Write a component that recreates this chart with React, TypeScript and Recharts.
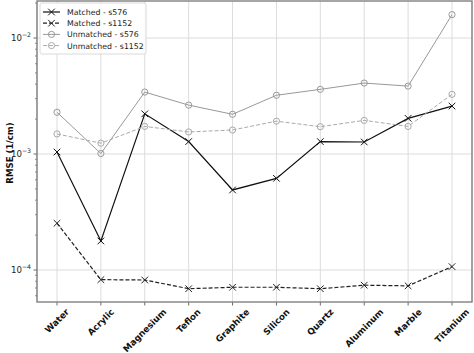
import { LineChart, Line, XAxis, YAxis, CartesianGrid, ReferenceLine } from 'recharts';

const materials = ['Water', 'Acrylic', 'Magnesium', 'Teflon', 'Graphite', 'Silicon', 'Quartz', 'Aluminum', 'Marble', 'Titanium'];
const matchedS576 = [1.04e-3, 1.78e-4, 2.22e-3, 1.28e-3, 4.9e-4, 6.17e-4, 1.28e-3, 1.27e-3, 2.03e-3, 2.59e-3];
const matchedS1152 = [2.53e-4, 8.26e-5, 8.2e-5, 6.9e-5, 7.1e-5, 7.1e-5, 6.9e-5, 7.4e-5, 7.3e-5, 1.07e-4];
const unmatchedS576 = [2.29e-3, 1.01e-3, 3.42e-3, 2.64e-3, 2.2e-3, 3.21e-3, 3.61e-3, 4.09e-3, 3.85e-3, 1.59e-2];
const unmatchedS1152 = [1.49e-3, 1.24e-3, 1.73e-3, 1.55e-3, 1.61e-3, 1.92e-3, 1.72e-3, 1.95e-3, 1.73e-3, 3.27e-3];
const majorTicks = [1e-4, 1e-3, 1e-2];
const tickExponents = ['−4', '−3', '−2'];

const W = 474;
const H = 353;
const PLOT_LEFT = 37;
const PLOT_TOP = 1;
const PLOT_RIGHT = 472;
const PLOT_BOTTOM = 302;
const Y_MIN = 5.3e-5;
const Y_MAX = 2.085e-2;
const FONT = '"DejaVu Sans", sans-serif';

const data = materials.map((name, i) => ({
  name,
  m576: matchedS576[i],
  m1152: matchedS1152[i],
  u576: unmatchedS576[i],
  u1152: unmatchedS1152[i],
}));

// log minor ticks (2..9 x 10^e) inside the visible range
const minorTicks: number[] = [];
for (let e = -5; e <= -2; e++) {
  for (let m = 2; m <= 9; m++) {
    const v = m * Math.pow(10, e);
    if (v >= Y_MIN && v <= Y_MAX) minorTicks.push(v);
  }
}
const yTicks = [...majorTicks, ...minorTicks].sort((a, b) => a - b);

type Series = { key: string; label: string; color: string; dash?: string; width: number; marker: 'x' | 'o' };
const series: Series[] = [
  { key: 'm576', label: 'Matched - s576', color: '#111', width: 1.2, marker: 'x' },
  { key: 'm1152', label: 'Matched - s1152', color: '#222', dash: '4 2', width: 1.2, marker: 'x' },
  { key: 'u576', label: 'Unmatched - s576', color: '#999', width: 1, marker: 'o' },
  { key: 'u1152', label: 'Unmatched - s1152', color: '#aaa', dash: '4 2', width: 1, marker: 'o' },
];

let measureCtx: CanvasRenderingContext2D | null = null;
const textWidth = (s: string, font: string) => {
  if (!measureCtx) measureCtx = document.createElement('canvas').getContext('2d');
  if (!measureCtx) return s.length * 6;
  measureCtx.font = font;
  return measureCtx.measureText(s).width;
};

const Marker = ({ cx, cy, color, kind }: { cx: number; cy: number; color: string; kind: 'x' | 'o' }) =>
  kind === 'x' ? (
    <path
      d={`M${cx - 3.3},${cy - 3.3}L${cx + 3.3},${cy + 3.3}M${cx - 3.3},${cy + 3.3}L${cx + 3.3},${cy - 3.3}`}
      stroke={color}
      strokeWidth={1}
      fill="none"
    />
  ) : (
    <circle cx={cx} cy={cy} r={3.1} stroke={color} strokeWidth={1} fill="none" />
  );

const makeDot = (s: Series) => (props: any) => {
  const { cx, cy, index } = props;
  if (cx == null || cy == null) return <g key={`${s.key}-${index}`} />;
  return (
    <g key={`${s.key}-${index}`}>
      <Marker cx={cx} cy={cy} color={s.color} kind={s.marker} />
    </g>
  );
};

const XTick = (props: any) => {
  const { x, payload } = props;
  const label = String(payload.value);
  const fs = 8.8;
  const w = textWidth(label, `bold ${fs}px ${FONT}`);
  const ext = (w + fs * 0.75) / Math.SQRT2;
  const cy = PLOT_BOTTOM + 6 + ext / 2;
  return (
    <g>
      <line x1={x} x2={x} y1={PLOT_BOTTOM} y2={PLOT_BOTTOM + 3.5} stroke="#444" strokeWidth={0.8} />
      <text
        x={x}
        y={cy}
        textAnchor="middle"
        dominantBaseline="central"
        transform={`rotate(-45 ${x} ${cy})`}
        fontSize={fs}
        fontWeight="bold"
        fontFamily={FONT}
        fill="#111"
      >
        {label}
      </text>
    </g>
  );
};

const YTick = (props: any) => {
  const { y, payload } = props;
  const idx = majorTicks.indexOf(payload.value);
  const major = idx >= 0;
  return (
    <g>
      <line x1={PLOT_LEFT - (major ? 3.5 : 2)} x2={PLOT_LEFT} y1={y} y2={y} stroke="#444" strokeWidth={major ? 0.8 : 0.6} />
      {major && (
        <text x={PLOT_LEFT - 6} y={y + 3} textAnchor="end" fontSize={8.6} fontFamily={FONT} fill="#222">
          10
          <tspan dy={-4} fontSize={6.2}>
            {tickExponents[idx]}
          </tspan>
        </text>
      )}
    </g>
  );
};

const LegendBox = () => (
  <g fontFamily={FONT}>
    <rect x={40} y={3} width={106} height={51} rx={2} fill="#fff" fillOpacity={0.85} stroke="#d0d0d0" strokeWidth={0.8} />
    {series.map((s, i) => {
      const y = 12 + i * 11.2;
      return (
        <g key={s.key}>
          <line x1={43} x2={60} y1={y} y2={y} stroke={s.color} strokeWidth={s.width} strokeDasharray={s.dash} />
          <Marker cx={51.5} cy={y} color={s.color} kind={s.marker} />
          <text x={67} y={y + 3} fontSize={7.8} fill="#222">
            {s.label}
          </text>
        </g>
      );
    })}
  </g>
);

export default function App() {
  return (
    <div style={{ position: 'absolute', left: 0, top: 0, width: W, height: H, background: '#fff' }}>
      <LineChart width={W} height={H} data={data} margin={{ top: PLOT_TOP, right: W - PLOT_RIGHT, bottom: 0, left: 0 }}>
        <CartesianGrid horizontal={false} stroke="#dcdcdc" strokeWidth={1} />
        {majorTicks.map((t) => (
          <ReferenceLine key={t} y={t} stroke="#dcdcdc" strokeWidth={1} />
        ))}
        <XAxis
          dataKey="name"
          padding={{ left: 20, right: 20 }}
          height={H - PLOT_BOTTOM}
          interval={0}
          tick={XTick}
          tickLine={false}
          axisLine={false}
        />
        <YAxis
          type="number"
          scale="log"
          domain={[Y_MIN, Y_MAX]}
          allowDataOverflow
          ticks={yTicks}
          interval={0}
          width={PLOT_LEFT}
          tick={YTick}
          tickLine={false}
          axisLine={false}
          label={{
            content: () => (
              <text
                x={10}
                y={153}
                transform="rotate(-90 10 153)"
                textAnchor="middle"
                dominantBaseline="central"
                fontSize={8.6}
                fontWeight="bold"
                fontFamily={FONT}
                fill="#111"
              >
                RMSE (1/cm)
              </text>
            ),
          }}
        />
        {series.map((s) => (
          <Line
            key={s.key}
            dataKey={s.key}
            name={s.label}
            type="linear"
            stroke={s.color}
            strokeWidth={s.width}
            strokeDasharray={s.dash}
            dot={makeDot(s)}
            activeDot={false}
            isAnimationActive={false}
          />
        ))}
      </LineChart>
      <svg width={W} height={H} style={{ position: 'absolute', left: 0, top: 0, pointerEvents: 'none' }}>
        <rect
          x={PLOT_LEFT}
          y={PLOT_TOP}
          width={PLOT_RIGHT - PLOT_LEFT}
          height={PLOT_BOTTOM - PLOT_TOP}
          fill="none"
          stroke="#808080"
          strokeWidth={1.4}
        />
        <LegendBox />
      </svg>
    </div>
  );
}
